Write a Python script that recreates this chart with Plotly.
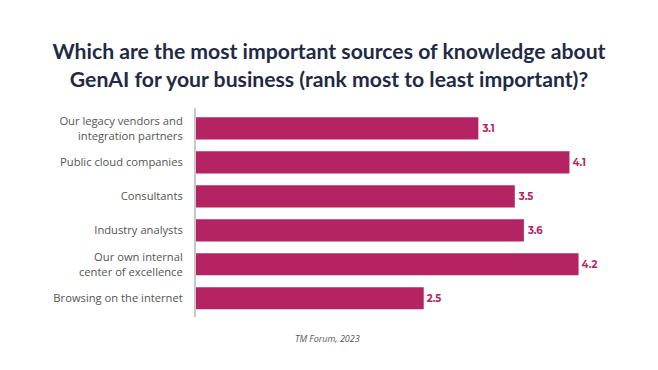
import plotly.graph_objects as go

categories = [
    "Our legacy vendors and<br>integration partners",
    "Public cloud companies",
    "Consultants",
    "Industry analysts",
    "Our own internal<br>center of excellence",
    "Browsing on the internet",
]
values = [3.1, 4.1, 3.5, 3.6, 4.2, 2.5]
value_labels = ["3.1", "4.1", "3.5", "3.6", "4.2", "2.5"]

title_text = ("Which are the most important sources of knowledge about<br>"
              "GenAI for your business (rank most to least important)?")
source_text = "TM Forum, 2023"

BAR = "#B52462"

fig = go.Figure(go.Bar(
    x=values,
    y=categories,
    orientation="h",
    marker=dict(color=BAR, line=dict(width=0)),
    text=value_labels,
    textposition="outside",
    textfont=dict(family="Montserrat, 'Open Sans', sans-serif", size=10, color=BAR, weight="bold"),
    cliponaxis=False,
))

W, H = 642, 354
L, R, T, B = 188, 35, 100, 45

fig.update_layout(
    width=W, height=H,
    paper_bgcolor="white", plot_bgcolor="white",
    margin=dict(l=L, r=R, t=T, b=B),
    bargap=0.35,
    showlegend=False,
    title=dict(
        text=title_text,
        x=0.5, xanchor="center",
        y=0.856, yanchor="top",
        font=dict(family="Lato, 'Open Sans', sans-serif", size=21.2, color="#1F2A44", weight="bold"),
    ),
    xaxis=dict(range=[0, 4.6], visible=False, fixedrange=True),
    yaxis=dict(
        autorange=False, range=[5.55, -0.6],
        showline=True, linecolor="#C8C8C8", linewidth=2,
        showgrid=False, zeroline=False,
        ticks="", ticklabelstandoff=9,
        tickfont=dict(family="'Open Sans', sans-serif", size=11.2, color="#555555"),
    ),
    annotations=[dict(
        text=source_text, xref="paper", yref="paper",
        x=0.3127, y=-0.105, xanchor="center", yanchor="middle",
        showarrow=False,
        font=dict(family="'Open Sans', sans-serif", size=9, color="#555555", style="italic"),
    )],
)

fig.write_html("out.html")
